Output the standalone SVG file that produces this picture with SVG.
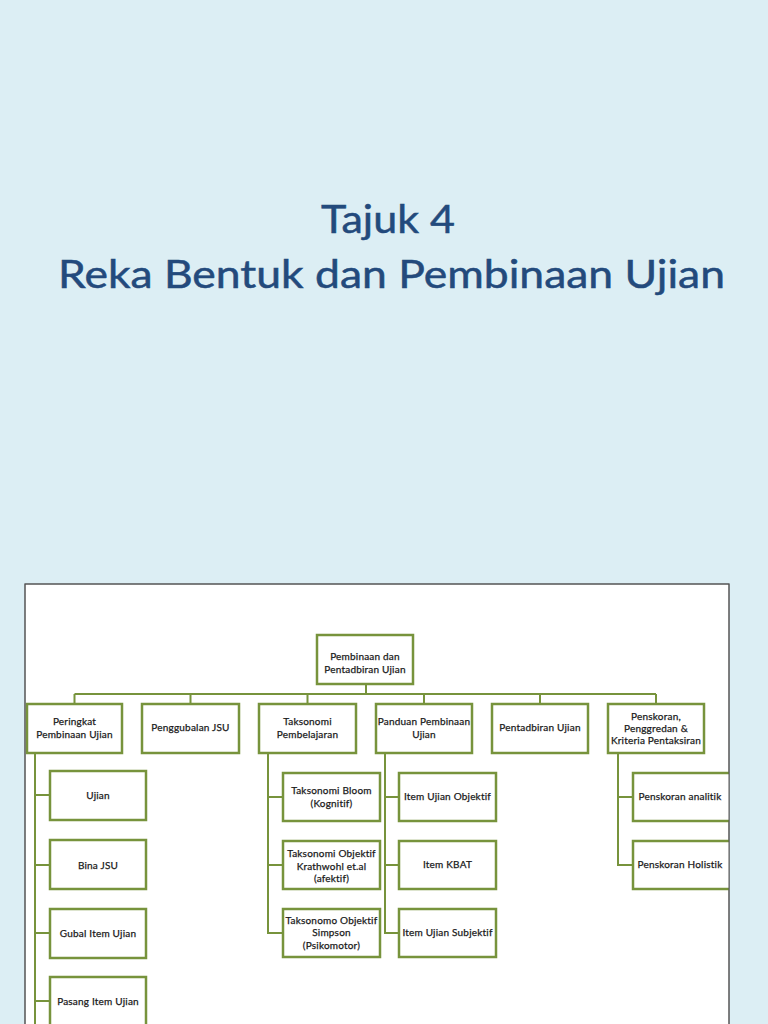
<svg xmlns="http://www.w3.org/2000/svg" width="768" height="1024" viewBox="0 0 768 1024">
<style>
.bx{fill:#ffffff;stroke:#77933C;stroke-width:2.5}
.cn{fill:none;stroke:#77933C;stroke-width:2}
.t{font-family:Lato,"Liberation Sans",sans-serif;font-size:10px;fill:#1a1a1a;stroke:#1a1a1a;stroke-width:0.25;text-anchor:middle;letter-spacing:0.2px}
.title{font-family:Lato,"Open Sans","Liberation Sans",sans-serif;font-size:39px;fill:#234A7C;stroke:#234A7C;stroke-width:0.5;text-anchor:middle}
</style>
<defs>
<clipPath id="panelClip"><rect x="25" y="584" width="704" height="460"/></clipPath>
</defs>
<rect x="0" y="0" width="768" height="1024" fill="#DCEEF4"/>
<g id="title">
<text class="title" x="388" y="233" textLength="134" lengthAdjust="spacingAndGlyphs">Tajuk 4</text>
<text class="title" x="391.5" y="288" textLength="667" lengthAdjust="spacingAndGlyphs">Reka Bentuk dan Pembinaan Ujian</text>
</g>
<rect x="25" y="584" width="704" height="460" fill="#ffffff" stroke="#555555" stroke-width="1"/>
<g clip-path="url(#panelClip)">
<g id="connectors">
<path class="cn" d="M366 684V694M74.5 694H656M74.5 694V704M190.5 694V704M307.5 694V704M424 694V704M540 694V704M656 694V704"/>
<path class="cn" d="M35 753V1030M35 795H50M35 865H50M35 933H50M35 1001H50"/>
<path class="cn" d="M268 753V933H283M268 797H283M268 865H283"/>
<path class="cn" d="M385 753V933H399M385 797H399M385 865H399"/>
<path class="cn" d="M618 753V865H633M618 797H633"/>
</g>
<g id="root"><rect class="bx" x="317" y="635" width="96" height="49"/><text class="t" x="365" y="660">Pembinaan dan</text><text class="t" x="365" y="673">Pentadbiran Ujian</text></g>
<g id="peringkat"><rect class="bx" x="27" y="704" width="95" height="49"/><text class="t" x="74.5" y="724.5">Peringkat</text><text class="t" x="74.5" y="737.5">Pembinaan Ujian</text></g>
<g id="penggubalan"><rect class="bx" x="142" y="704" width="97" height="49"/><text class="t" x="190.5" y="730.5">Penggubalan JSU</text></g>
<g id="taksonomi"><rect class="bx" x="259" y="704" width="97" height="49"/><text class="t" x="307.5" y="724.5">Taksonomi</text><text class="t" x="307.5" y="737.5">Pembelajaran</text></g>
<g id="panduan"><rect class="bx" x="376" y="704" width="96" height="49"/><text class="t" x="424" y="724.5">Panduan Pembinaan</text><text class="t" x="424" y="737.5">Ujian</text></g>
<g id="pentadbiran"><rect class="bx" x="492" y="704" width="96" height="49"/><text class="t" x="540" y="730.5">Pentadbiran Ujian</text></g>
<g id="penskoran"><rect class="bx" x="608" y="704" width="96" height="49"/><text class="t" x="656" y="719.5">Penskoran,</text><text class="t" x="656" y="731.5">Penggredan &amp;</text><text class="t" x="656" y="743.5">Kriteria Pentaksiran</text></g>
<g id="ujian"><rect class="bx" x="50" y="771" width="96" height="49"/><text class="t" x="98" y="798.5">Ujian</text></g>
<g id="binajsu"><rect class="bx" x="50" y="840" width="96" height="49"/><text class="t" x="98" y="868.5">Bina JSU</text></g>
<g id="gubal"><rect class="bx" x="50" y="909" width="96" height="49"/><text class="t" x="98" y="936.5">Gubal Item Ujian</text></g>
<g id="pasang"><rect class="bx" x="50" y="977" width="96" height="49"/><text class="t" x="98" y="1005">Pasang Item Ujian</text></g>
<g id="bloom"><rect class="bx" x="283" y="773" width="97" height="48"/><text class="t" x="331.5" y="793.5">Taksonomi Bloom</text><text class="t" x="331.5" y="806.5">(Kognitif)</text></g>
<g id="krathwohl"><rect class="bx" x="283" y="841" width="97" height="48"/><text class="t" x="331.5" y="856.5">Taksonomi Objektif</text><text class="t" x="331.5" y="869.5">Krathwohl et.al</text><text class="t" x="331.5" y="881.5">(afektif)</text></g>
<g id="simpson"><rect class="bx" x="283" y="909" width="97" height="48"/><text class="t" x="331.5" y="924">Taksonomo Objektif</text><text class="t" x="331.5" y="936">Simpson</text><text class="t" x="331.5" y="948.5">(Psikomotor)</text></g>
<g id="objektif"><rect class="bx" x="399" y="773" width="97" height="48"/><text class="t" x="447.5" y="799.5">Item Ujian Objektif</text></g>
<g id="kbat"><rect class="bx" x="399" y="841" width="97" height="48"/><text class="t" x="447.5" y="868">Item KBAT</text></g>
<g id="subjektif"><rect class="bx" x="399" y="909" width="97" height="48"/><text class="t" x="447.5" y="936">Item Ujian Subjektif</text></g>
<g id="analitik"><rect class="bx" x="633" y="773" width="100" height="48"/><text class="t" x="680" y="799.5">Penskoran analitik</text></g>
<g id="holistik"><rect class="bx" x="633" y="841" width="100" height="48"/><text class="t" x="680" y="868">Penskoran Holistik</text></g>
</g>
<rect x="25" y="584" width="704" height="460" fill="none" stroke="#555555" stroke-width="1"/>
</svg>
